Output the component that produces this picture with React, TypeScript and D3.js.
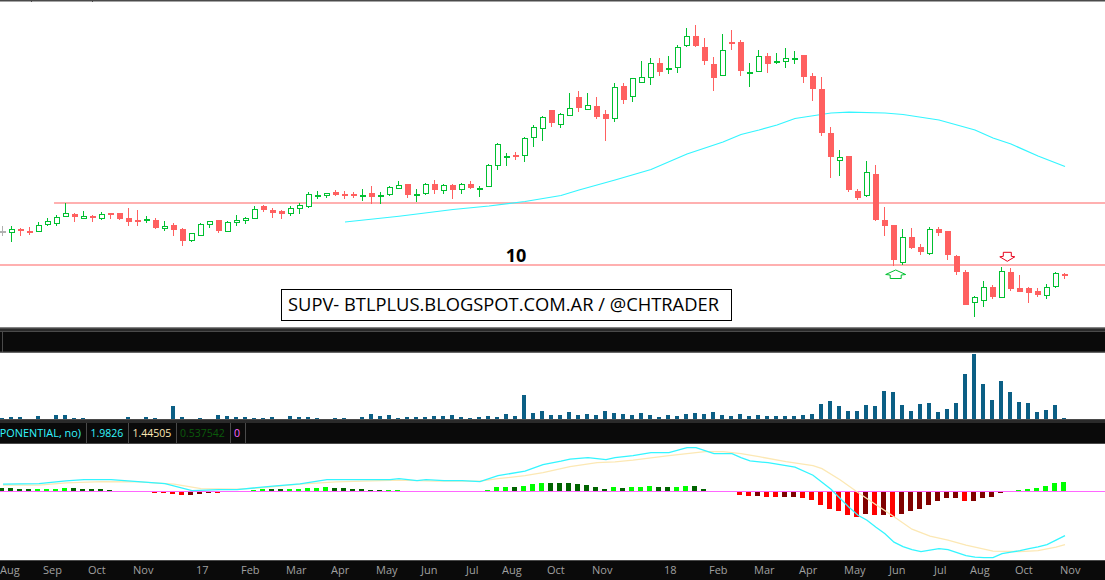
import * as d3 from 'd3';

const W = 1105;
const H = 580;

// daily-ish candles, one per bar
const opens = [
  12.72, 12.66, 12.88, 12.74, 12.74, 13.26, 13.38, 13.94, 14.08, 13.78, 13.92, 13.78, 14.16, 14.16, 13.76, 13.6, 13.62, 13.6, 12.98, 13.2,
  12.88, 12.02, 12.42, 13.26, 13.6, 12.72, 13.46, 13.62, 13.78, 14.72, 14.4, 14.32, 14.16, 14.58, 14.74, 15.58, 15.58, 15.82, 15.68, 15.68,
  15.6, 15.76, 15.58, 15.7, 16.18, 16.48, 15.64, 15.78, 16.48, 16.0, 16.4, 16.08, 16.48, 16.14, 16.32, 18.02, 18.7, 18.8, 18.82, 20.26,
  20.98, 22.4, 21.3, 22.02, 23.44, 22.5, 22.72, 22.08, 21.78, 24.32, 23.54, 24.66, 25.06, 26.16, 25.74, 25.86, 27.62, 28.32, 27.44, 26.08,
  25.22, 27.84, 27.84, 25.42, 25.54, 26.72, 26.3, 26.3, 26.54, 26.8, 25.12, 24.08, 20.56, 18.42, 18.72, 15.92, 15.62, 17.28, 13.6, 13.2,
  10.26, 12.24, 11.44, 10.98, 12.88, 12.72, 10.72, 9.44, 7.06, 7.22, 8.24, 7.46, 9.44, 8.16, 8.16, 7.92, 7.62, 8.34, 9.3,
];
const highs = [
  13.12, 13.12, 12.94, 13.02, 13.44, 13.76, 13.98, 14.96, 14.14, 14.32, 13.98, 14.24, 14.16, 14.16, 14.58, 14.4, 13.92, 13.76, 13.52, 13.36,
  12.96, 12.54, 13.34, 13.5, 13.6, 13.52, 14.0, 13.82, 14.72, 14.8, 14.58, 14.4, 14.72, 14.94, 15.84, 15.92, 15.78, 16.0, 15.92, 15.84,
  16.08, 16.32, 15.84, 16.32, 16.72, 16.48, 16.08, 16.56, 16.8, 16.48, 16.48, 16.56, 16.72, 16.32, 18.08, 19.76, 18.96, 19.04, 20.24, 21.2,
  21.92, 22.4, 22.16, 23.76, 23.92, 23.76, 23.44, 22.4, 24.56, 24.56, 24.94, 26.32, 26.56, 26.56, 26.72, 27.6, 28.96, 29.2, 28.16, 26.64,
  28.48, 28.8, 28.0, 26.16, 27.2, 26.96, 26.96, 27.36, 27.12, 26.8, 25.36, 25.04, 21.04, 19.2, 18.72, 16.08, 18.32, 18.0, 14.64, 13.2,
  12.88, 12.96, 11.68, 13.04, 13.04, 12.72, 10.8, 9.6, 7.52, 8.72, 8.4, 9.84, 9.76, 9.2, 8.24, 8.16, 8.48, 9.44, 9.36,
];
const lows = [
  12.32, 11.86, 12.34, 12.42, 12.64, 13.14, 13.14, 13.86, 13.46, 13.7, 13.46, 13.62, 13.68, 13.6, 13.14, 13.14, 13.38, 12.88, 12.74, 12.34,
  11.52, 11.84, 12.42, 12.98, 12.56, 12.64, 13.14, 13.28, 13.78, 14.24, 13.76, 13.68, 13.94, 14.08, 14.58, 15.28, 15.36, 15.52, 15.28, 15.36,
  15.12, 14.88, 14.88, 15.52, 16.08, 15.36, 15.04, 15.6, 15.68, 15.68, 15.28, 15.68, 16.08, 15.44, 16.32, 17.6, 17.92, 18.4, 18.24, 19.44,
  19.92, 21.04, 20.96, 21.94, 22.24, 22.5, 21.68, 19.92, 21.46, 22.88, 23.04, 24.56, 24.4, 25.12, 25.28, 25.36, 27.44, 27.44, 26.0, 23.92,
  25.22, 27.2, 25.12, 24.24, 25.54, 25.36, 26.08, 25.76, 26.08, 24.56, 23.12, 20.32, 16.96, 17.12, 15.84, 15.2, 15.44, 13.52, 12.32, 9.92,
  10.0, 11.28, 10.8, 10.8, 12.32, 10.4, 9.2, 6.8, 5.84, 6.64, 7.28, 7.46, 7.92, 7.84, 6.96, 7.44, 7.28, 8.16, 8.88,
];
const closes = [
  12.72, 12.86, 12.74, 12.7, 13.18, 13.5, 13.82, 14.14, 13.84, 13.9, 13.76, 14.06, 14.0, 13.68, 13.44, 13.56, 13.66, 12.96, 13.12, 12.8,
  11.92, 12.54, 13.26, 13.5, 12.72, 13.42, 13.58, 13.74, 14.46, 14.4, 14.16, 14.08, 14.54, 14.78, 15.66, 15.62, 15.74, 15.6, 15.54, 15.54,
  15.64, 15.44, 15.62, 16.22, 16.38, 15.6, 15.7, 16.48, 16.0, 16.38, 16.0, 16.48, 16.16, 16.18, 18.0, 19.68, 18.74, 18.64, 20.14, 21.04,
  21.84, 21.38, 22.06, 22.54, 22.56, 22.78, 21.84, 21.68, 24.22, 23.2, 24.94, 25.02, 26.14, 25.44, 25.78, 27.42, 28.3, 27.52, 26.32, 24.96,
  27.18, 27.68, 25.52, 25.46, 26.7, 26.08, 26.34, 26.54, 26.58, 25.04, 24.08, 20.56, 18.64, 18.62, 16.0, 15.36, 17.42, 13.6, 13.12, 10.4,
  12.22, 11.36, 11.04, 12.86, 12.56, 10.8, 9.44, 6.8, 7.42, 8.22, 7.44, 9.5, 8.08, 7.84, 7.76, 7.6, 8.22, 9.34, 9.26,
];

const levelValues = [14.96, 10];
const levelStarts = [5.67, -1];

const maBars = [38, 44, 50, 54, 58, 62, 64, 66, 68, 72, 76, 80, 82, 84, 86, 88, 90, 92, 94, 98, 100, 104, 108, 110, 112, 115, 118];
const maValues = [13.44, 13.9, 14.44, 14.72, 15.08, 15.56, 16.0, 16.4, 16.8, 17.64, 18.88, 19.84, 20.44, 20.8, 21.2, 21.72, 21.94, 22.16, 22.22, 22.16, 22.04, 21.6, 20.8, 20.16, 19.68, 18.72, 17.88];

const volumes = [
  1, 2.5, 2.5, 0, 3.5, 0, 4.5, 4.5, 1.5, 1.5, 0, 0, 0, 0, 2.5, 0, 2.5, 1.5, 0, 13.5,
  2.5, 0, 1.5, 0, 4.5, 3.5, 2.5, 2.5, 1.5, 1.5, 2.5, 0, 3.5, 2.5, 2.5, 1.5, 0, 1.5, 1.5, 0,
  2.5, 5, 3, 4, 1, 2, 2, 2, 3, 3, 4, 2, 1, 2, 3, 2, 5, 3, 24, 6,
  8, 4, 4, 7, 4, 5, 4, 8, 6, 5, 4, 6, 4, 2, 4, 3, 5, 6, 5, 7,
  4, 3, 5, 3, 4, 3, 3, 3, 3, 4, 5, 15, 18, 13, 8, 8, 14, 13, 28, 27,
  14, 8, 15, 16, 7, 10, 16, 45, 65, 35, 19, 38, 27, 17, 16, 7, 9, 14, 1,
];

const histValues = [
  0.18, 0.18, 0.12, 0.12, 0.12, 0.12, 0.12, 0.18, 0.18, 0.12, 0.12, 0.12, 0.06, 0, 0, -0.06, -0.06, -0.12, -0.12, -0.18,
  -0.24, -0.24, -0.18, -0.12, -0.12, -0.03, -0.03, 0, 0.06, 0.12, 0.12, 0.12, 0.12, 0.12, 0.18, 0.18, 0.24, 0.18, 0.18, 0.12,
  0.12, 0.06, 0.06, 0.06, 0.06, 0, 0, 0, 0, 0, -0.03, 0, -0.03, -0.03, 0.06, 0.24, 0.24, 0.24, 0.3, 0.42,
  0.48, 0.48, 0.48, 0.48, 0.42, 0.36, 0.24, 0.12, 0.24, 0.18, 0.24, 0.24, 0.3, 0.24, 0.24, 0.24, 0.3, 0.3, 0.12, -0.03,
  -0.03, -0.03, -0.24, -0.3, -0.3, -0.33, -0.33, -0.33, -0.33, -0.39, -0.51, -0.81, -1.11, -1.23, -1.41, -1.53, -1.35, -1.41, -1.41, -1.53,
  -1.35, -1.23, -1.11, -0.81, -0.57, -0.45, -0.45, -0.57, -0.57, -0.39, -0.33, -0.09, 0, 0.06, 0.12, 0.18, 0.3, 0.48, 0.54,
];
// B rising above zero, G falling above zero, R falling below zero, M rising below zero
const histTones = (
  'GGGGBBBBGGGGGGG' + 'RRRRRRMMMRMMB' + 'BBGGBBBBBGGGGGGBB' + 'GGGGGRGRRBBBGBBB' + 'GGGGGGGBGBBBGGBBGG' +
  'RRMRRMRRMMRRRRRRRMRMRMMMMMMMRMMMMGBBBBBB'
).split('');

const macdBars = [0, 4, 7, 9, 12, 15, 18, 21, 24, 26, 30, 33, 36, 40, 43, 44, 46, 47, 49, 51, 53, 55, 58, 60, 62, 63, 65, 67, 68, 70, 72, 74, 76, 77, 79, 81, 82, 83, 85, 87, 88, 90, 91, 92, 93, 94, 95, 96, 97, 98, 99, 100, 101, 102, 103, 104, 105, 106, 107, 108, 109, 110, 111, 112, 113, 114, 115, 116, 117, 118];
const macdValues = [0.42, 0.45, 0.62, 0.7, 0.7, 0.57, 0.45, 0.04, 0.1, 0.1, 0.3, 0.44, 0.69, 0.7, 0.7, 0.76, 0.64, 0.7, 0.64, 0.64, 0.58, 0.93, 1.2, 1.6, 1.8, 1.93, 2.02, 1.9, 2.02, 2.13, 2.32, 2.32, 2.62, 2.62, 2.26, 2.26, 2.02, 1.82, 1.71, 1.53, 1.44, 0.96, 0.54, 0.12, -0.42, -0.96, -1.44, -1.74, -2.16, -2.55, -3.06, -3.33, -3.51, -3.62, -3.54, -3.45, -3.51, -3.69, -3.87, -3.96, -3.98, -3.98, -3.75, -3.66, -3.57, -3.45, -3.34, -3.2, -2.94, -2.67];

const signalBars = [0, 4, 7, 11, 15, 19, 22, 26, 29, 33, 37, 41, 44, 48, 53, 55, 58, 60, 63, 66, 68, 70, 74, 78, 80, 82, 84, 87, 90, 91, 93, 95, 97, 99, 101, 103, 105, 107, 110, 113, 115, 117, 118];
const signalValues = [0.36, 0.36, 0.5, 0.58, 0.56, 0.42, 0.16, 0.12, 0.21, 0.42, 0.56, 0.62, 0.66, 0.6, 0.6, 0.75, 0.93, 1.12, 1.48, 1.72, 1.76, 1.86, 2.13, 2.38, 2.38, 2.25, 2.07, 1.78, 1.53, 1.35, 0.69, -0.08, -0.81, -1.53, -2.28, -2.7, -2.94, -3.24, -3.6, -3.62, -3.56, -3.36, -3.21];

const tickBars = [-1, 4, 9, 14, 21, 26, 31, 36, 41, 46, 51, 55, 60, 65, 73, 78, 83, 88, 93, 98, 103, 107, 112, 117];
const tickLabels = ['Aug', 'Sep', 'Oct', 'Nov', '17', 'Feb', 'Mar', 'Apr', 'May', 'Jun', 'Jul', 'Aug', 'Oct', 'Nov', '18', 'Feb', 'Mar', 'Apr', 'May', 'Jun', 'Jul', 'Aug', 'Oct', 'Nov'];

const GREEN = '#00c030';
const RED = '#ff6060';
const CYAN = '#33f5ff';
const BEIGE = '#fce8b4';
const BAND = '#0a0a0a';
const RULE = '#4a4a4a';
const toneColors: Record<string, string> = { B: '#00ff00', G: '#006400', R: '#ff0000', M: '#800000' };
const FONT = '"Open Sans", sans-serif';

const x = d3.scaleLinear().domain([0, 118]).range([3, 1065]);
const yPrice = d3.scaleLinear().domain([31.2, 4.96]).range([0, 328]);
const yVolume = d3.scaleLinear().domain([0, 67]).range([419, 352]);
const yMacd = d3.scaleLinear().domain([2.832, -4.128]).range([444, 560]);

const maLine = d3.line<number>().x((_, i) => x(maBars[i])).y((d) => yPrice(d));
const macdLine = d3.line<number>().x((_, i) => x(macdBars[i])).y((d) => yMacd(d));
const signalLine = d3.line<number>().x((_, i) => x(signalBars[i])).y((d) => yMacd(d));

// little outline arrows that mark the entry and the exit
const upArrow = (cx: number, top: number) =>
  `M${cx},${top}L${cx + 10},${top + 4.5}L${cx + 5.5},${top + 5}V${top + 8.5}H${cx - 5.5}V${top + 5}L${cx - 10},${top + 4.5}Z`;
const downArrow = (cx: number, bottom: number) =>
  `M${cx},${bottom}L${cx + 7.5},${bottom - 4.5}L${cx + 4},${bottom - 5}V${bottom - 9}H${cx - 4}V${bottom - 5}L${cx - 7.5},${bottom - 4.5}Z`;

const Candle = ({ i }: { i: number }) => {
  const up = closes[i] >= opens[i];
  const neutral = i === 0;
  const color = neutral ? '#b0b0b0' : up ? GREEN : RED;
  const cx = Math.round(x(i));
  const top = Math.round(yPrice(Math.max(opens[i], closes[i])));
  const bottom = Math.round(yPrice(Math.min(opens[i], closes[i])));
  const bodyH = bottom - top;
  return (
    <g>
      <line x1={cx - 0.5} x2={cx - 0.5} y1={Math.round(yPrice(highs[i]))} y2={Math.round(yPrice(lows[i]))} stroke={color} strokeWidth={1} />
      {bodyH < 2 ? (
        <rect x={cx - 3} y={top} width={6} height={2} fill={color} />
      ) : up ? (
        <rect x={cx - 2.5} y={top + 0.5} width={5} height={bodyH} fill="#fff" stroke={color} strokeWidth={1} />
      ) : (
        <rect x={cx - 3} y={top} width={6} height={bodyH} fill={color} />
      )}
    </g>
  );
};

export default function App() {
  return (
    <svg
      width={W}
      height={H}
      viewBox={`0 0 ${W} ${H}`}
      style={{ position: 'absolute', left: 0, top: 0, display: 'block', background: '#fff' }}
      fontFamily={FONT}
    >
      {/* top edge */}
      <rect x={0} y={0} width={W} height={1.5} fill={RULE} />
      <rect x={31} y={0} width={1} height={2} fill={RULE} />
      <rect x={92} y={0} width={1} height={2} fill={RULE} />

      {/* price panel */}
      {levelValues.map((v, i) => (
        <rect key={v} x={x(levelStarts[i])} width={W - x(levelStarts[i])} y={Math.round(yPrice(v)) - 1} height={2} fill="#ffb0b0" />
      ))}
      <path d={maLine(maValues) ?? ''} fill="none" stroke={CYAN} strokeWidth={1.25} />
      {opens.map((_, i) => (
        <Candle key={i} i={i} />
      ))}
      <path d={upArrow(x(99) + 1.7, yPrice(lows[99]) + 4)} fill="#fff" stroke={GREEN} strokeWidth={1} />
      <path d={downArrow(x(111) + 5.3, yPrice(highs[111]) - 5.7)} fill="#fff" stroke="#e8001c" strokeWidth={1} />
      <text x={516} y={262} textAnchor="middle" fontSize={18} fontWeight={700} fill="#000">
        10
      </text>
      <rect x={281.5} y={289.5} width={450} height={31} fill="#fff" stroke="#000" strokeWidth={1} />
      <text x={288} y={311} fontSize={18} fill="#000" textLength={431} lengthAdjust="spacingAndGlyphs">
        SUPV- BTLPLUS.BLOGSPOT.COM.AR / @CHTRADER
      </text>

      {/* band between price and volume */}
      <rect x={0} y={327.5} width={W} height={25} fill={BAND} />
      <rect x={0} y={328} width={W} height={1.5} fill={RULE} />
      <rect x={0} y={330.5} width={W} height={1.5} fill={RULE} />
      <rect x={2} y={332} width={1} height={20} fill={RULE} />
      <rect x={0} y={351.5} width={W} height={1} fill={RULE} />

      {/* volume panel */}
      <g shapeRendering="crispEdges">
        {volumes.map((v, i) =>
          v > 0 ? (
            <rect key={i} x={x(i) - 3} y={yVolume(v)} width={4} height={yVolume(0) - yVolume(v)} fill="#0b5f85" />
          ) : null,
        )}
      </g>

      {/* band with the study legend */}
      <rect x={0} y={419} width={W} height={25} fill={BAND} />
      <rect x={0} y={419} width={W} height={1.5} fill={RULE} />
      <rect x={0} y={421.5} width={W} height={1} fill={RULE} />
      <rect x={0} y={443} width={W} height={1} fill={RULE} />
      {[86, 128, 176, 230, 245].map((d) => (
        <rect key={d} x={d} y={423} width={1} height={20} fill={RULE} />
      ))}
      <g fontSize={10.5}>
        <text x={81} y={437} textAnchor="end" fontSize={10.9} fill={CYAN}>
          PONENTIAL, no)
        </text>
        <text x={90.5} y={437} fill={CYAN}>
          1.9826
        </text>
        <text x={132.5} y={437} fill={BEIGE}>
          1.44505
        </text>
        <text x={180} y={437} fill="#0a5a0a">
          0.537542
        </text>
        <text x={234} y={437} fill="#ff66ff">
          0
        </text>
      </g>

      {/* macd panel */}
      <g shapeRendering="crispEdges">
        {histValues.map((v, i) =>
          v !== 0 ? (
            <rect
              key={i}
              x={x(i) - 4}
              y={Math.round(Math.min(yMacd(v), yMacd(0)))}
              width={5}
              height={Math.max(1, Math.round(Math.abs(yMacd(v) - yMacd(0))))}
              fill={toneColors[histTones[i]]}
            />
          ) : null,
        )}
        <rect x={0} y={Math.round(yMacd(0))} width={W} height={1} fill="#ff66ff" />
      </g>
      <path d={signalLine(signalValues) ?? ''} fill="none" stroke={BEIGE} strokeWidth={1.3} />
      <path d={macdLine(macdValues) ?? ''} fill="none" stroke={CYAN} strokeWidth={1.3} />

      {/* time axis */}
      <rect x={0} y={560} width={W} height={20} fill={BAND} />
      <rect x={0} y={560} width={W} height={1} fill={RULE} />
      {tickLabels.map((t, i) => (
        <text key={i} x={Math.max(0, x(tickBars[i]) + 4)} y={574} fontSize={11} fill="#a0a0a0">
          {t}
        </text>
      ))}
    </svg>
  );
}
